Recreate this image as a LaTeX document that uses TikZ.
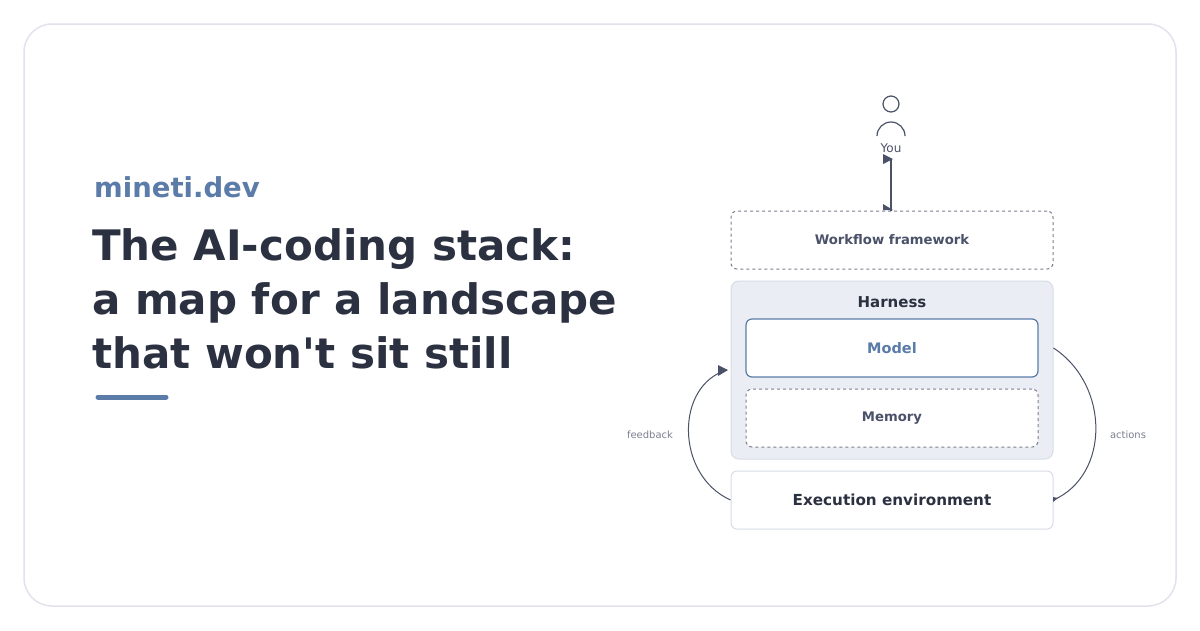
\documentclass[tikz,border=0pt]{standalone}
\usepackage{fontspec}
\setmainfont{DejaVu Sans}
\usetikzlibrary{arrows.meta}
\definecolor{ink}{HTML}{2B3140}
\definecolor{blu}{HTML}{5B7BA8}
\definecolor{gry}{HTML}{4A5168}
\definecolor{lgr}{HTML}{7C8090}
\definecolor{hfill}{HTML}{EAEDF3}
\definecolor{hbord}{HTML}{D8DCE6}
\definecolor{card}{HTML}{E2E2EE}
\begin{document}
\begin{tikzpicture}[x=1pt,y=-1pt,
  box/.style={draw, rounded corners=6pt, minimum width=322pt, minimum height=58pt, line width=1pt, font=\bfseries\fontsize{13.2pt}{15pt}\selectfont},
  inner/.style={draw, rounded corners=6pt, minimum width=292pt, minimum height=58pt, fill=white, line width=1.2pt},
  lab/.style={text=lgr, font=\fontsize{10pt}{12pt}\selectfont},
  con/.style={draw=gry, line width=1pt},
  tri/.style={fill=gry, draw=none}]
\path[use as bounding box] (0,0) rectangle (1200,630);
\draw[card, line width=1.5pt, rounded corners=28pt, fill=white] (24,24) rectangle (1176,606);
\node[anchor=base west, inner sep=0pt, text=blu, font=\bfseries\fontsize{27.5pt}{30pt}\selectfont] (site) at (94,197) {mineti.dev};
\node[anchor=base west, text=ink, align=left, inner sep=0pt, font=\bfseries\fontsize{42pt}{54pt}\selectfont] (title) at (92,368) {The AI-coding stack:\\a map for a landscape\\that won\textquotesingle t sit still};
\draw[blu, line width=5pt, line cap=round] (98,397) -- (166,397);
% diagram
\node[box, draw=lgr, dashed, text=gry] (wf) at (892,240) {Workflow framework};
\node[draw=hbord, fill=hfill, rounded corners=8pt, minimum width=322pt, minimum height=178pt, line width=1pt] (har) at (892,370) {};
\node[text=ink, font=\bfseries\fontsize{15pt}{17pt}\selectfont] (hl) at (892,302) {Harness};
\node[inner, draw=blu, text=blu, font=\bfseries\fontsize{14.5pt}{17pt}\selectfont] (model) at (892,348) {Model};
\node[inner, draw=lgr, dashed, text=gry, line width=1pt, font=\bfseries\fontsize{13.2pt}{15pt}\selectfont] (mem) at (892,418) {Memory};
\node[box, draw=hbord, text=ink, font=\bfseries\fontsize{15.2pt}{17pt}\selectfont] (exec) at (892,500) {Execution environment};
% person
\node[draw=gry, circle, minimum size=16pt, inner sep=0pt, line width=1.2pt] (head) at (891,104) {};
\draw[gry, line width=1.2pt] (877,136) arc[start angle=180, end angle=360, radius=14];
\node[text=gry, font=\fontsize{12pt}{14pt}\selectfont] (you) at (891,148) {You};
\coordinate (ytop) at (891,159);
\draw[con, line width=1.2pt] (wf.north -| ytop) -- (ytop);
\fill[gry] (883,154) -- (893,159) -- (883,164) -- cycle;
\fill[gry] (883,204) -- (893,210) -- (883,210) -- cycle;
% loops
\coordinate (fbend) at (727,370);
\draw[con] (exec.west) .. controls (675,475) and (675,385) .. (fbend);
\fill[gry] (718,365) -- (728,370) -- (718,376) -- cycle;
\draw[con] (model.east -| har.east) .. controls (1110,385) and (1110,475) .. (exec.east);
\fill[gry] (1053,497) -- (1058,498) -- (1053,502) -- cycle;
\node[lab] (fb) at (650,435) {feedback};
\node[lab] (ac) at (1128,435) {actions};
\end{tikzpicture}
\end{document}
